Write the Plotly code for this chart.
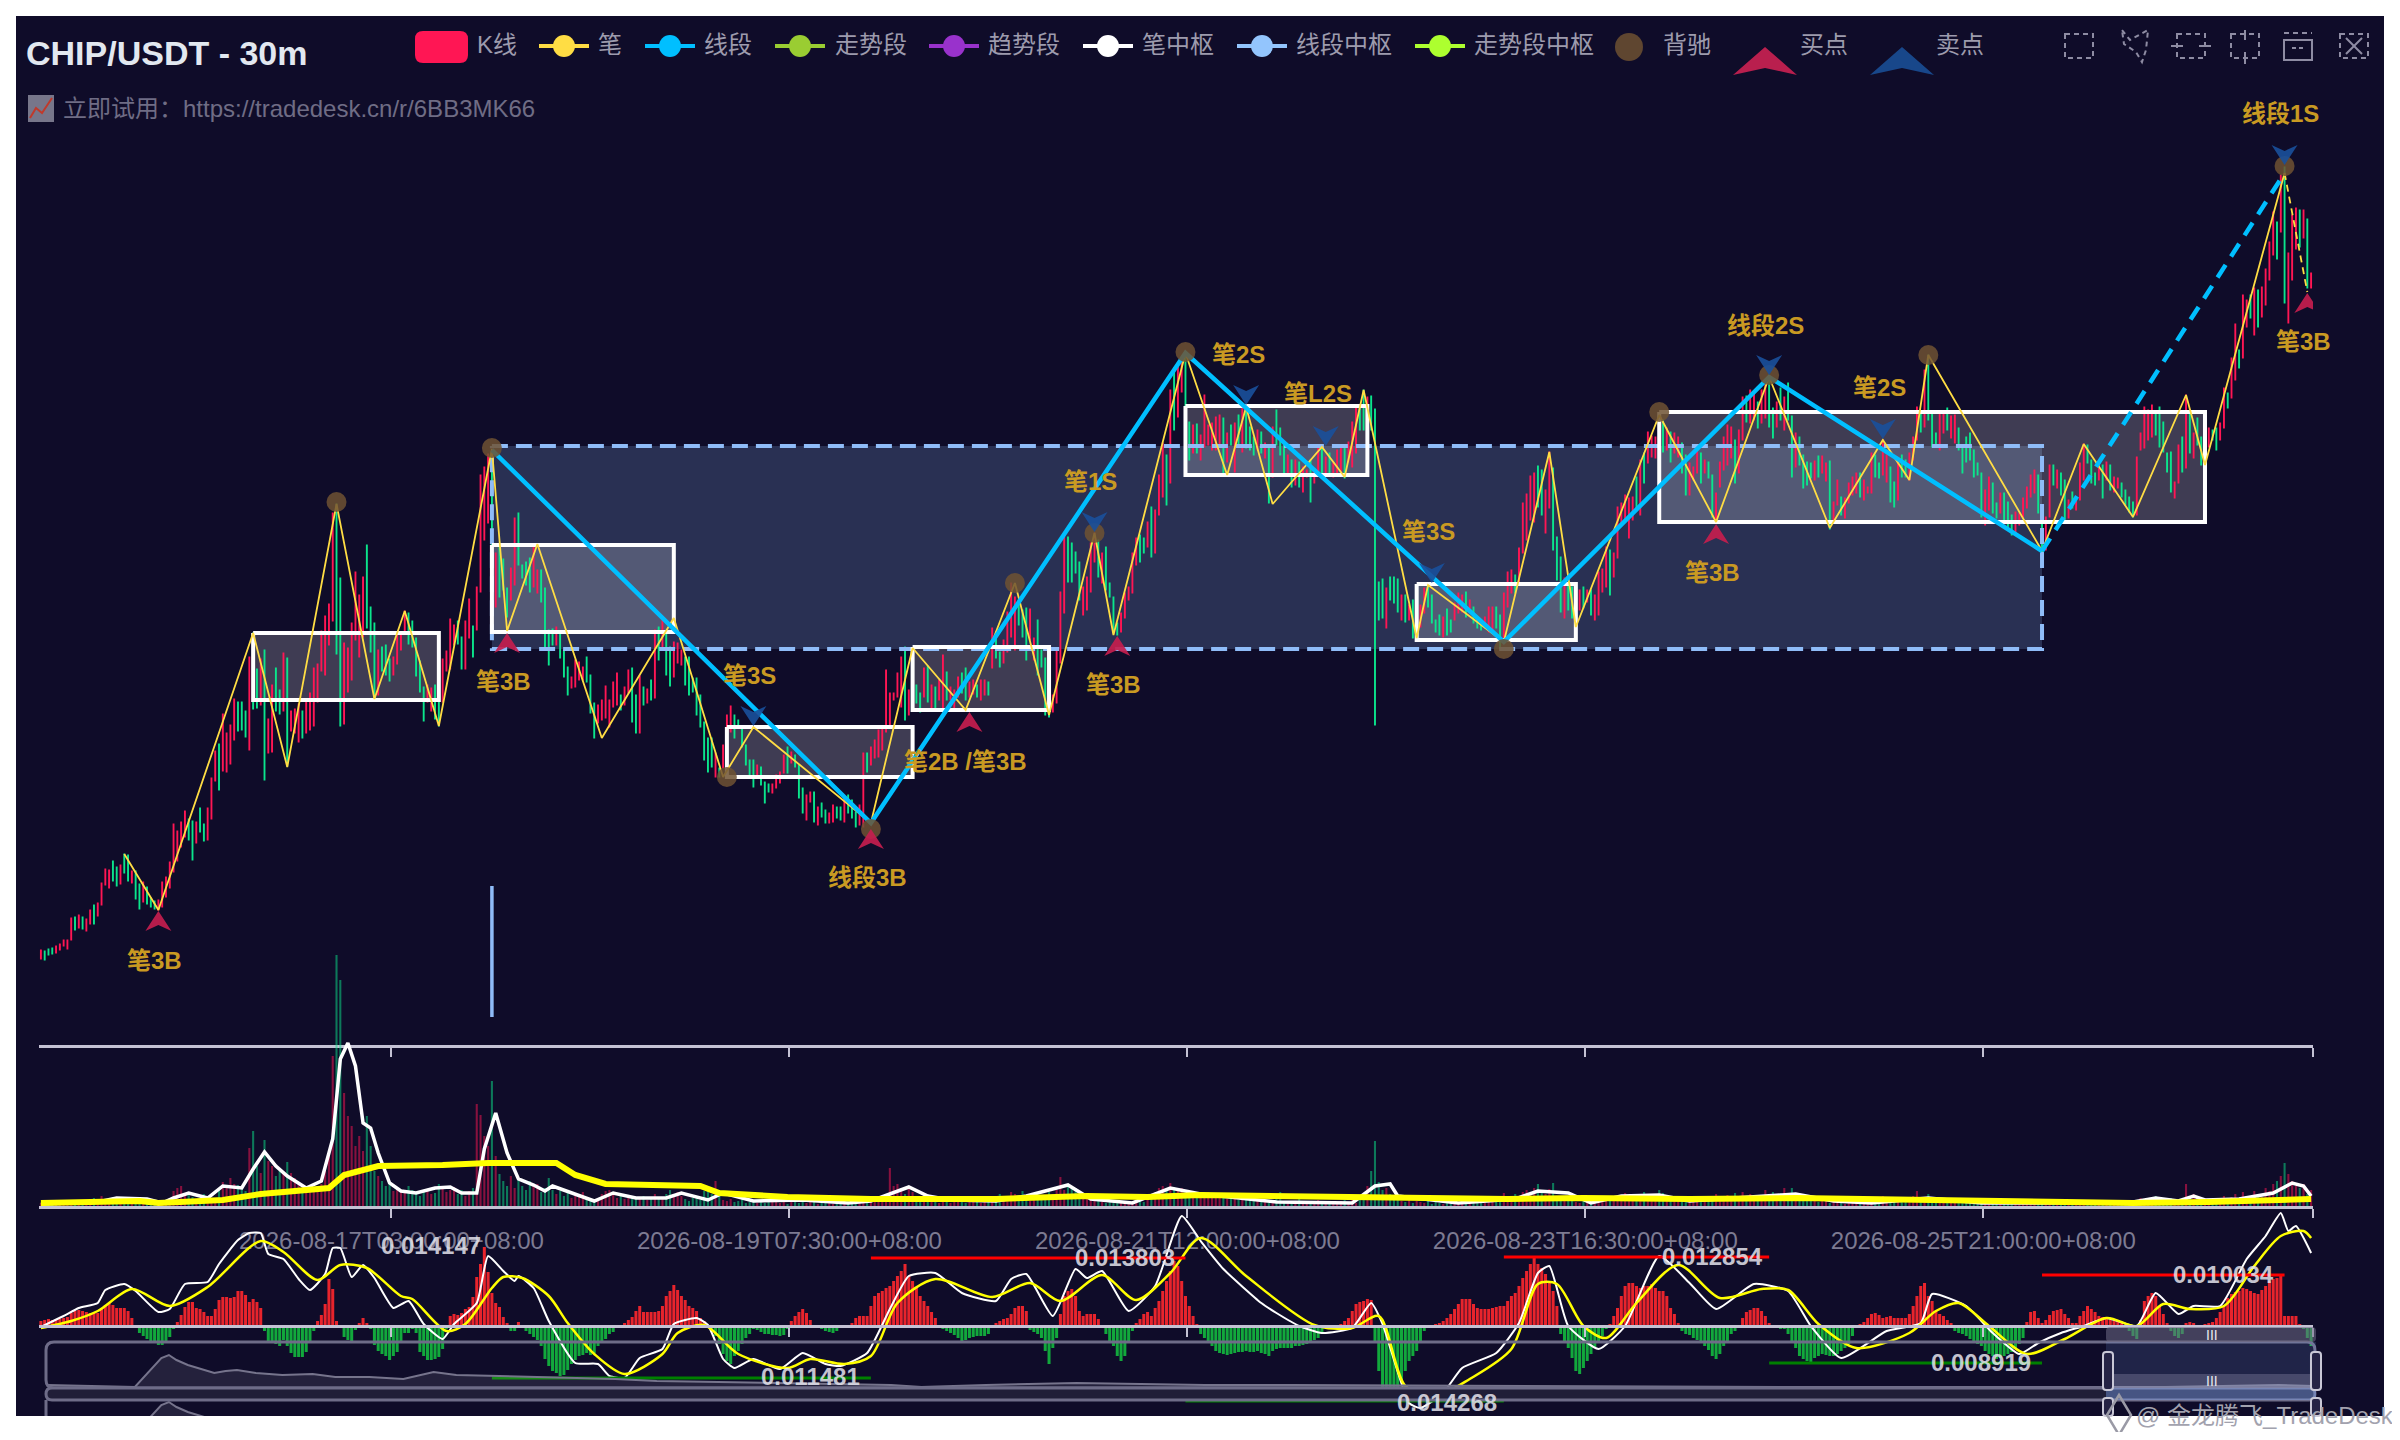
import plotly.graph_objects as go

# page body margin is 8px, figure sits inside it
OFFSET = 8
W, H = 2384, 1424
BG = "#0f0c29"
UP, DOWN = "#ff1654", "#0be58c"
CJK = "Liberation Sans, Noto Sans CJK SC"

# candles, 30m bars. price units are display ticks, the axis itself is hidden
bar_high = [
    97, 96, 98, 99, 101, 103, 107, 107, 129, 130, 132, 130, 128, 137, 142, 144, 164, 178, 177, 186,
    180, 182, 193, 192, 176, 176, 163, 165, 160, 149, 146, 147, 165, 170, 185, 223, 216, 225, 236, 228,
    226, 225, 239, 223, 239, 269, 296, 303, 333, 314, 322, 348, 345, 345, 336, 390, 414, 378, 388, 397,
    328, 362, 379, 357, 394, 389, 336, 338, 343, 336, 347, 354, 379, 383, 416, 431, 443, 534, 543, 469,
    404, 399, 424, 475, 452, 470, 502, 440, 424, 397, 400, 402, 388, 390, 414, 414, 436, 434, 426, 409,
    386, 360, 362, 359, 362, 350, 388, 396, 428, 422, 426, 410, 426, 448, 421, 460, 572, 580, 593, 597,
    494, 501, 488, 459, 479, 529, 534, 482, 485, 489, 502, 477, 477, 459, 417, 418, 420, 415, 397, 380,
    370, 387, 385, 380, 390, 372, 344, 342, 347, 361, 347, 365, 374, 352, 360, 377, 379, 352, 371, 360,
    358, 367, 417, 420, 430, 415, 400, 405, 404, 397, 390, 390, 369, 369, 352, 325, 309, 309, 294, 279,
    302, 332, 341, 332, 327, 320, 302, 287, 287, 282, 280, 265, 263, 263, 272, 275, 292, 300, 295, 292,
    282, 259, 252, 255, 255, 240, 244, 237, 234, 242, 240, 240, 249, 252, 247, 235, 242, 294, 294, 300,
    307, 317, 319, 377, 354, 354, 374, 390, 400, 357, 367, 362, 354, 379, 381, 362, 360, 367, 392, 375,
    360, 357, 370, 374, 379, 365, 367, 362, 367, 367, 365, 419, 415, 395, 407, 435, 464, 450, 447, 437,
    439, 438, 409, 427, 397, 389, 380, 352, 399, 455, 510, 510, 504, 495, 485, 460, 470, 504, 514, 507,
    494, 500, 464, 450, 424, 434, 454, 460, 494, 509, 512, 509, 525, 540, 537, 572, 604, 592, 657, 679,
    682, 687, 694, 625, 622, 623, 612, 652, 622, 624, 630, 632, 629, 614, 622, 624, 632, 640, 637, 620,
    610, 617, 615, 604, 602, 620, 637, 619, 602, 592, 587, 587, 585, 580, 577, 587, 577, 602, 599, 590,
    594, 584, 597, 600, 600, 605, 625, 640, 642, 657, 650, 651, 638, 465, 468, 459, 470, 470, 468, 452,
    452, 442, 447, 440, 442, 459, 462, 452, 427, 432, 430, 438, 427, 444, 454, 452, 455, 447, 440, 430,
    425, 430, 440, 440, 440, 432, 454, 475, 477, 472, 499, 544, 553, 571, 574, 581, 577, 557, 595, 579,
    510, 490, 469, 461, 460, 449, 457, 460, 457, 457, 452, 475, 478, 500, 497, 494, 540, 544, 552, 549,
    550, 570, 587, 594, 615, 611, 610, 632, 627, 619, 615, 614, 610, 604, 592, 584, 580, 597, 594, 587,
    585, 572, 554, 585, 610, 622, 620, 607, 617, 650, 651, 657, 654, 645, 657, 662, 670, 639, 645, 659,
    650, 664, 631, 614, 610, 592, 585, 584, 586, 591, 591, 584, 586, 545, 567, 550, 549, 564, 570, 574,
    574, 567, 560, 594, 592, 584, 607, 592, 580, 565, 587, 592, 587, 594, 610, 640, 635, 677, 692, 634,
    614, 636, 635, 639, 631, 632, 619, 600, 610, 614, 597, 584, 574, 557, 570, 564, 544, 554, 554, 545,
    532, 535, 534, 549, 560, 572, 577, 572, 540, 530, 582, 582, 577, 574, 567, 547, 555, 549, 584, 603,
    602, 587, 574, 586, 582, 585, 582, 570, 569, 564, 557, 550, 545, 590, 614, 640, 637, 642, 634, 640,
    625, 594, 595, 565, 602, 610, 652, 635, 614, 629, 610, 602, 619, 617, 619, 624, 659, 654, 689, 723,
    697, 752, 747, 752, 759, 757, 760, 778, 805, 835, 825, 872, 880, 794, 832, 839, 837, 837, 828, 774,
]
bar_low = [
    88, 87, 92, 93, 94, 97, 101, 98, 107, 117, 119, 118, 116, 123, 123, 131, 142, 162, 159, 166,
    161, 163, 174, 166, 164, 148, 138, 145, 143, 140, 138, 137, 140, 150, 159, 175, 186, 200, 210, 207,
    187, 204, 215, 206, 207, 228, 266, 257, 276, 275, 283, 307, 316, 317, 310, 297, 338, 339, 342, 267,
    294, 295, 336, 333, 336, 281, 316, 314, 305, 309, 314, 317, 321, 345, 376, 372, 402, 426, 393, 321,
    323, 355, 367, 407, 390, 410, 419, 395, 348, 352, 376, 372, 366, 372, 383, 397, 414, 403, 400, 371,
    355, 326, 345, 336, 328, 321, 345, 376, 378, 402, 403, 378, 378, 409, 390, 417, 455, 507, 524, 426,
    440, 450, 457, 430, 447, 462, 482, 469, 462, 455, 460, 454, 445, 399, 382, 402, 402, 389, 370, 352,
    359, 360, 367, 367, 365, 334, 309, 324, 327, 329, 320, 340, 342, 337, 342, 354, 325, 314, 314, 342,
    344, 347, 349, 387, 397, 372, 361, 370, 384, 382, 362, 352, 355, 332, 320, 287, 275, 280, 270, 270,
    279, 300, 315, 309, 320, 300, 282, 272, 260, 269, 262, 244, 255, 254, 259, 264, 274, 274, 284, 280,
    249, 234, 227, 245, 225, 222, 230, 224, 224, 225, 229, 227, 225, 234, 229, 220, 222, 220, 275, 282,
    289, 290, 297, 315, 319, 347, 350, 340, 327, 332, 347, 344, 335, 350, 345, 339, 337, 347, 339, 347,
    347, 337, 350, 354, 347, 350, 353, 350, 347, 352, 352, 379, 389, 380, 384, 395, 410, 397, 422, 410,
    387, 407, 387, 372, 380, 332, 330, 335, 344, 384, 434, 465, 465, 474, 447, 432, 437, 455, 485, 470,
    464, 457, 450, 414, 412, 415, 429, 447, 454, 482, 485, 494, 500, 490, 494, 532, 550, 542, 564, 617,
    630, 655, 607, 587, 594, 594, 587, 600, 602, 597, 597, 602, 574, 585, 602, 575, 600, 595, 599, 597,
    592, 597, 594, 589, 544, 570, 602, 592, 572, 574, 560, 562, 560, 555, 570, 545, 564, 574, 574, 572,
    574, 570, 574, 574, 569, 585, 580, 594, 617, 617, 584, 617, 322, 427, 429, 419, 447, 444, 435, 427,
    425, 427, 409, 410, 420, 434, 440, 424, 415, 412, 410, 412, 415, 427, 434, 435, 430, 434, 424, 419,
    417, 419, 415, 415, 419, 399, 405, 440, 454, 454, 462, 494, 507, 527, 525, 540, 532, 514, 539, 497,
    467, 435, 429, 437, 429, 419, 437, 439, 445, 432, 427, 432, 455, 460, 452, 470, 489, 524, 525, 509,
    527, 539, 532, 564, 584, 590, 589, 599, 595, 597, 585, 594, 590, 574, 552, 552, 567, 574, 564, 574,
    569, 530, 525, 560, 577, 582, 589, 564, 574, 607, 625, 624, 627, 619, 624, 629, 620, 609, 620, 627,
    617, 627, 570, 580, 582, 559, 562, 569, 567, 570, 574, 566, 518, 527, 542, 532, 529, 544, 552, 554,
    550, 547, 554, 554, 570, 569, 572, 565, 545, 540, 547, 570, 570, 567, 587, 607, 615, 620, 627, 600,
    600, 597, 614, 617, 609, 604, 597, 574, 585, 587, 570, 572, 530, 522, 537, 534, 529, 534, 524, 519,
    512, 514, 522, 530, 539, 550, 554, 534, 495, 497, 530, 562, 559, 552, 527, 529, 539, 537, 547, 567,
    584, 564, 562, 567, 549, 567, 557, 555, 559, 550, 542, 535, 530, 532, 597, 599, 607, 610, 612, 600,
    595, 575, 555, 549, 564, 575, 579, 594, 589, 602, 582, 577, 600, 607, 597, 607, 619, 639, 649, 667,
    679, 689, 720, 729, 712, 720, 730, 742, 767, 792, 788, 815, 744, 724, 767, 798, 800, 809, 759, 759,
]
# r = up bar, g = down bar, ten bars per block
bar_dir = "".join([
    "rgggrrrrrg", "rgrrgrrrrg", "grggrggrgg", "grrrrrrrrg", "grggrrrgrr", "rrgggrggrg",
    "rrggrgrrrg", "rrrrrrrrgg", "rrrrrrgggr", "gggrrrrggg", "ggrrggrrrr", "ggrrgrrrrg",
    "rgggrrgggg", "rrggggrggg", "rrrrgggrrr", "rrrgrrggrg", "rgrgrggrrr", "ggggggggrg",
    "rrrggggggr", "gggrrrrgrg", "ggrrgrggrr", "ggrgggrrgr", "rrrrrrrrgr", "rggrgrgrrg",
    "rrrggrrgrr", "grggrrrrgg", "grrggggrrr", "rggggrrrrg", "rggggrrrrr", "ggrgrrrgrg",
    "rrggrgrrrr", "rrgrgrgrgg", "grgrgrgggr", "grgrrgrrgr", "grrrgrrrgg", "rggggrgggr",
    "grgrrrgggg", "rggrrrgrgg", "grrrggrrrg", "rrrrrggrrg", "ggrggrrgrg", "rrrrgrrrrr",
    "rgrgrrrggr", "grrggrrrgr", "ggrrrrrgrr", "grrgrrggrg", "rggrggggrg", "rrgrrgrrrr",
    "grrrggrrgg", "rggrrrgrgg", "grrgrrgggg", "gggrrggrgg", "grrrrrrggr", "rgrggrgrrr",
    "gggrgrgrrg", "gggrrrrrgg", "gggrrgrgrg", "grrggrrgrr", "grrgrgrrrr", "grgrrrgrgr",
])

# volume, same bars
volume = [
    3, 2, 2, 3, 2, 3, 3, 3, 5, 4, 4, 5, 5, 7, 8, 5, 10, 6, 5, 9, 8, 7, 9, 7, 4, 3, 4, 6, 3, 2,
    2, 3, 4, 5, 8, 15, 18, 20, 12, 14, 9, 7, 8, 12, 9, 7, 6, 16, 24, 20, 28, 22, 21, 18, 15, 58, 75, 40, 33, 66,
    45, 40, 30, 35, 34, 44, 33, 28, 22, 16, 14, 18, 15, 20, 22, 35, 50, 150, 251, 226, 113, 90, 80, 60, 70, 55, 90, 60, 35, 30,
    25, 20, 22, 15, 18, 14, 15, 20, 16, 12, 10, 14, 17, 12, 13, 22, 20, 14, 16, 19, 12, 16, 10, 15, 18, 102, 91, 70, 60, 125,
    50, 32, 25, 20, 30, 18, 27, 20, 16, 25, 20, 22, 14, 18, 28, 16, 12, 15, 10, 14, 8, 10, 12, 14, 8, 5, 7, 6, 12, 15,
    16, 12, 8, 10, 7, 8, 9, 8, 7, 10, 6, 9, 12, 8, 7, 12, 16, 11, 14, 10, 7, 5, 8, 10, 6, 15, 20, 12, 25, 10,
    6, 5, 7, 4, 5, 8, 3, 4, 6, 3, 5, 3, 6, 4, 7, 3, 5, 2, 4, 5, 3, 6, 3, 4, 5, 2, 4, 6, 3, 2,
    4, 2, 3, 5, 2, 3, 6, 4, 8, 5, 7, 6, 10, 12, 38, 20, 22, 16, 12, 20, 14, 8, 6, 10, 5, 4, 6, 3, 4, 7,
    3, 6, 4, 5, 3, 6, 4, 5, 3, 4, 8, 5, 7, 12, 10, 9, 14, 12, 10, 15, 8, 5, 6, 12, 10, 7, 14, 12, 16, 29,
    16, 22, 20, 18, 12, 8, 10, 6, 5, 7, 4, 3, 5, 3, 4, 5, 3, 4, 3, 6, 5, 4, 10, 12, 14, 18, 20, 16, 23, 19,
    15, 18, 12, 10, 14, 8, 10, 12, 14, 9, 11, 13, 9, 7, 10, 12, 6, 9, 11, 6, 5, 8, 4, 6, 3, 5, 9, 14, 5, 4,
    3, 5, 7, 3, 4, 5, 3, 6, 4, 3, 4, 2, 3, 5, 6, 4, 7, 3, 6, 9, 20, 35, 65, 24, 16, 18, 12, 8, 7, 5,
    4, 6, 3, 5, 4, 3, 5, 2, 4, 3, 2, 4, 3, 5, 2, 3, 6, 4, 3, 5, 4, 3, 7, 5, 6, 4, 13, 8, 10, 12,
    9, 14, 16, 12, 18, 22, 15, 12, 17, 23, 10, 8, 6, 5, 7, 4, 3, 5, 4, 6, 3, 5, 4, 7, 5, 6, 10, 8, 13, 9,
    8, 12, 9, 14, 10, 12, 11, 16, 13, 10, 8, 6, 9, 5, 7, 4, 6, 5, 7, 8, 6, 10, 12, 7, 9, 11, 8, 13, 10, 14,
    9, 12, 10, 8, 11, 16, 12, 14, 10, 13, 18, 12, 18, 10, 7, 5, 8, 6, 9, 4, 5, 6, 3, 4, 7, 5, 2, 4, 3, 6,
    5, 3, 4, 6, 5, 7, 10, 4, 3, 5, 6, 8, 5, 7, 10, 15, 6, 8, 12, 9, 6, 7, 5, 4, 6, 3, 5, 4, 3, 4,
    2, 4, 3, 2, 5, 3, 2, 4, 3, 2, 3, 2, 4, 3, 2, 3, 4, 2, 3, 4, 2, 3, 2, 4, 2, 3, 5, 3, 2, 3,
    2, 3, 4, 5, 3, 6, 4, 3, 5, 2, 3, 2, 4, 5, 8, 7, 6, 9, 10, 7, 5, 4, 8, 6, 5, 7, 22, 9, 12, 6,
    5, 8, 6, 4, 7, 5, 10, 6, 9, 12, 8, 14, 10, 7, 15, 12, 9, 18, 15, 22, 25, 30, 43, 32, 25, 20, 18, 22, 12, 16,
]
vol_fast_x = [0, 15, 20, 28, 32, 35, 39, 44, 48, 53, 56, 59, 62, 65, 70, 74, 77, 79, 81, 83, 85, 87, 89, 92, 95, 99, 104, 108, 111, 115, 117, 120, 123, 126, 130, 133, 135, 140, 146, 151, 157, 165, 169, 176, 180, 188, 201, 213, 219, 229, 234, 240, 252, 260, 271, 277, 288, 298, 306, 326, 346, 352, 356, 358, 374, 389, 395, 403, 409, 417, 427, 435, 447, 463, 473, 483, 498, 512, 528, 552, 558, 564, 568, 571, 580, 589, 594, 597, 599]
vol_fast = [2, 4, 8, 7, 3, 8, 13, 8, 20, 18, 37, 54, 40, 30, 18, 25, 67, 147, 163, 140, 83, 78, 53, 23, 15, 13, 18, 19, 13, 13, 57, 93, 53, 27, 21, 15, 20, 13, 5, 13, 8, 8, 13, 6, 13, 5, 6, 3, 5, 19, 10, 6, 5, 10, 21, 7, 3, 18, 12, 4, 3, 20, 22, 10, 3, 7, 15, 13, 3, 10, 11, 5, 8, 12, 5, 3, 8, 3, 3, 4, 8, 5, 10, 6, 7, 13, 23, 20, 10]
vol_slow_x = [0, 15, 26, 31, 48, 58, 76, 80, 89, 106, 118, 136, 141, 149, 174, 179, 197, 219, 252, 276, 292, 306, 326, 352, 387, 407, 435, 463, 508, 552, 572, 599]
vol_slow = [3, 4, 5, 3, 6, 12, 18, 31, 40, 41, 43, 43, 31, 22, 20, 13, 9, 7, 7, 10, 9, 11, 10, 9, 7, 8, 7, 8, 6, 3, 4, 7]

# macd
macd_hist = [
    5, 6, 7, 6, 7, 7, 8, 9, 13, 15, 16, 15, 14, 13, 13, 13, 18, 21, 23, 21, 18, 18, 18, 15, 8, 0, -7, -10, -13, -15,
    -17, -19, -19, -15, -11, -3, 4, 11, 19, 24, 24, 18, 17, 14, 10, 10, 17, 26, 29, 29, 28, 29, 35, 35, 31, 24, 27, 24, 18, -5,
    -15, -16, -18, -20, -14, -20, -27, -31, -31, -31, -26, -16, -5, 5, 11, 22, 47, 37, 5, 0, -11, -14, -15, -4, 3, 8, 3, -3, -19, -25,
    -28, -30, -34, -30, -26, -16, -7, -7, -3, -7, -26, -30, -34, -34, -33, -31, -23, -3, 10, 12, 11, 13, 17, 19, 29, 49, 62, 79, 54, 33,
    23, 19, 9, 3, -5, -5, 4, 0, -5, -8, -11, -14, -20, -33, -40, -45, -47, -50, -49, -44, -38, -34, -30, -29, -27, -29, -27, -20, -17, -13,
    -8, -6, -2, 0, 3, 6, 9, 15, 20, 14, 14, 14, 14, 15, 20, 30, 35, 41, 36, 30, 26, 20, 18, 15, 8, 5, 0, -5, -10, -18,
    -28, -35, -38, -30, -25, -18, -12, -8, -3, -4, -6, -8, -8, -9, -9, -10, -9, -3, 5, 10, 14, 17, 13, 6, 0, 0, -3, -5, -6, -7,
    -5, -2, 0, 0, 3, 8, 10, 10, 10, 20, 30, 33, 35, 38, 40, 45, 50, 55, 62, 50, 45, 38, 30, 25, 20, 14, 8, 1, -3, -5,
    -7, -9, -12, -15, -14, -12, -11, -10, -10, -10, -8, -2, 3, 5, 7, 8, 12, 18, 20, 20, 15, -4, -6, -8, -12, -25, -38, -22, -12, 12,
    30, 35, 37, 30, 15, 10, 12, 12, 12, 7, 1, -8, -15, -20, -30, -35, -30, -15, -5, 3, 7, 12, 14, 10, 18, 25, 35, 45, 55, 65,
    60, 45, 30, 20, 10, 2, -8, -12, -15, -20, -25, -27, -28, -29, -28, -27, -26, -26, -25, -26, -26, -25, -27, -28, -30, -25, -23, -22, -22, -22,
    -22, -20, -20, -19, -18, -17, -14, -12, -8, -2, 0, 0, 0, 2, 5, 8, 15, 22, 24, 25, 27, 26, -15, -45, -65, -71, -70, -68, -62, -55,
    -45, -35, -30, -25, -15, -5, 1, 1, 2, 3, 5, 8, 12, 17, 22, 27, 27, 27, 22, 18, 17, 17, 17, 18, 19, 20, 20, 25, 30, 33,
    40, 48, 55, 62, 68, 62, 58, 52, 45, 35, 20, -8, -15, -22, -32, -45, -48, -42, -35, -28, -22, -15, -10, -3, 2, 10, 18, 30, 40, 43,
    43, 40, 38, 40, 40, 42, 38, 35, 35, 30, 18, 12, 3, -5, -8, -9, -12, -14, -16, -20, -24, -30, -33, -28, -20, -15, -8, -5, 0, 8,
    14, 16, 18, 18, 15, 10, 3, -2, -1, -3, -3, -8, -15, -22, -30, -33, -35, -36, -32, -30, -28, -29, -30, -30, -28, -25, -22, -18, -10, 1,
    2, 4, 8, 12, 13, 11, 8, 9, 10, 8, 8, 8, 8, 12, 20, 30, 40, 43, 30, 25, 15, 12, 10, 6, 3, -5, -7, -8, -10, -13,
    -16, -18, -20, -25, -28, -30, -33, -32, -30, -28, -26, -22, -18, -12, 4, 14, 15, 8, 3, 6, 11, 15, 16, 17, 12, 8, 3, 3, 10, 15,
    20, 17, 14, 10, 9, 7, 6, 5, 5, 3, 1, -5, -10, -13, 6, 25, 30, 33, 30, 20, 12, 3, -5, -10, -12, -8, 3, 4, 3, 1,
    1, 2, 3, 4, 8, 14, 20, 28, 32, 34, 35, 38, 37, 35, 33, 32, 36, 40, 45, 47, 48, 50, 10, 10, 10, 10, 2, -3, -12, -20,
]
dif_x = [0, 6, 10, 15, 17, 22, 25, 31, 34, 38, 44, 47, 52, 55, 58, 60, 64, 68, 71, 75, 77, 79, 82, 85, 88, 93, 97, 101, 106, 109, 115, 118, 122, 125, 126, 130, 134, 141, 147, 150, 154, 158, 164, 167, 173, 176, 180, 183, 188, 195, 201, 207, 211, 218, 224, 229, 236, 243, 252, 256, 260, 267, 273, 276, 280, 287, 294, 301, 306, 312, 322, 326, 332, 338, 346, 351, 354, 361, 364, 370, 375, 384, 390, 395, 398, 403, 411, 418, 427, 435, 442, 452, 461, 467, 475, 487, 496, 499, 508, 515, 522, 527, 533, 539, 545, 553, 558, 564, 568, 575, 582, 587, 591, 593, 595, 599]
dif = [-1, 10, 18, 23, 36, 42, 35, 14, 17, 42, 44, 62, 86, 93, 93, 72, 67, 47, 36, 52, 78, 78, 49, 61, 48, 18, 25, 2, -13, 2, 23, 70, 55, 45, 50, 38, 5, -37, -38, -50, -52, -32, -23, 2, 8, 1, -33, -42, -33, -43, -27, -38, -40, -27, 17, 50, 53, 33, 25, 47, 52, 10, 57, 48, 55, 15, 40, 110, 85, 57, 23, 13, 0, -7, -2, 23, 2, -77, -82, -67, -42, -27, 3, 53, 60, 0, -23, 0, 70, 43, 17, 42, 35, 0, -32, -5, 3, 32, 20, -7, -28, -17, -7, 0, 8, 0, 33, 12, 20, 20, 67, 90, 113, 95, 100, 73]
dea_x = [0, 8, 15, 24, 34, 44, 58, 64, 73, 79, 86, 95, 98, 107, 112, 119, 122, 127, 134, 139, 146, 154, 164, 168, 175, 184, 197, 203, 212, 219, 226, 236, 251, 261, 269, 280, 289, 298, 306, 318, 336, 346, 353, 360, 368, 377, 388, 395, 400, 407, 413, 421, 432, 443, 454, 461, 469, 479, 493, 500, 506, 514, 524, 534, 545, 553, 560, 567, 576, 584, 591, 597, 599]
dea = [-2, 5, 15, 37, 20, 39, 85, 74, 46, 61, 58, 30, 27, -5, 2, 38, 49, 48, 30, 3, -28, -48, -28, -7, 1, -28, -42, -33, -38, -30, 23, 47, 29, 43, 25, 51, 26, 53, 88, 50, 1, -2, 10, -60, -70, -53, -23, 42, 42, 0, -12, 23, 61, 28, 37, 36, 2, -22, -7, 15, 23, 0, -28, -13, 8, 0, 22, 17, 20, 60, 90, 95, 88]

# chan structure
pen_x = [22, 31, 56, 65, 78, 88, 96, 105, 119, 123, 131, 148, 167, 180, 188, 219, 230, 244, 257, 266, 278, 283, 302, 313, 318, 325, 338, 344, 349, 363, 366, 386, 398, 405, 427, 442, 456, 472, 486, 493, 498, 528, 539, 552, 566, 571, 592]
pen_y = [193, 137, 414, 280, 543, 348, 436, 321, 598, 416, 503, 309, 429, 270, 320, 224, 399, 337, 464, 332, 514, 412, 694, 572, 640, 543, 600, 570, 657, 409, 462, 405, 595, 420, 632, 525, 670, 519, 607, 567, 692, 496, 603, 530, 652, 582, 874]
pen_open_x = [592, 598]
pen_open_y = [874, 755]
seg_x = [119, 219, 302, 386, 456, 528]
seg_y = [597, 224, 694, 405, 670, 496]
seg_open_x = [528, 592]
seg_open_y = [496, 874]
# pivots: first bar, last bar, low, high
pivot_x0 = [56, 119, 181, 230, 302, 363, 427]
pivot_x1 = [105, 167, 230, 266, 350, 405, 571]
pivot_lo = [347, 415, 270, 337, 572, 407, 525]
pivot_hi = [414, 502, 320, 400, 641, 463, 635]
seg_pivot_x = [119, 528]
seg_pivot_y = [398, 601]
marker_line_x = [119, 119]
marker_line_y = [30, 161]
diverge_x = [78, 119, 181, 219, 257, 278, 302, 386, 427, 456, 498, 592]
diverge_y = [545, 599, 270, 218, 464, 514, 695, 398, 635, 672, 692, 881]
buy_x = [31, 123, 219, 245, 284, 442, 598]
buy_y = [136, 414, 218, 335, 411, 523, 754]
sell_x = [188, 278, 318, 339, 367, 456, 486, 592]
sell_y = [321, 515, 642, 601, 464, 672, 608, 882]
label_x = [30, 122, 187, 218, 244, 283, 277, 316, 337, 366, 441, 455, 485, 591, 597]
label_y = [87, 366, 372, 170, 286, 363, 566, 693, 654, 516, 475, 722, 660, 934, 706]
label_text = ["笔3B", "笔3B", "笔3S", "线段3B", "笔2B /笔3B", "笔3B", "笔1S", "笔2S", "笔L2S", "笔3S", "笔3B", "线段2S", "笔2S", "线段1S", "笔3B"]

# macd extreme marks
mark_x0 = [219, 386, 528, 456, 119, 302]
mark_x1 = [302, 456, 592, 528, 219, 386]
mark_y = [68, 69, 51, -37, -52, -75]
mark_label_x = [103, 286, 203, 371, 441, 512, 576]
mark_label_y = [81, 69, -50, -76, 70, -36, 52]
mark_label = ["0.014147", "0.013803", "0.011481", "0.014268", "0.012854", "0.008919", "0.010034"]

tick_vals = [92.5, 197.5, 302.5, 407.5, 512.5, 599.5]
tick_text = ["2026-08-17T03:00:00+08:00", "2026-08-19T07:30:00+08:00", "2026-08-21T12:00:00+08:00",
             "2026-08-23T16:30:00+08:00", "2026-08-25T21:00:00+08:00", ""]

slider_x = [0, 23, 30, 32, 34, 37, 44, 47, 50, 55, 62, 70, 76, 85, 94, 102, 108, 118, 128, 139, 150, 161, 191, 223, 231, 248, 272, 306, 330, 400, 460, 530, 560, 590, 599]
slider_y = [3, 1, 30, 33, 28, 23, 15, 17, 18, 15, 13, 14, 11, 11, 9, 16, 13, 12, 11, 10, 9, 7, 5, 3, 1, 3, 5, 3, 3, 2, 1, 1, 1, 3, 2]

legend_colors = ["#ffdd44", "#00bfff", "#9acd32", "#9932cc", "#ffffff", "#93c5fd", "#adff2f"]
legend_centers = [564, 670, 800, 954, 1108, 1262, 1440]


def fx(x):
    return (x - OFFSET) / W


def fy(y):
    return 1 - (y - OFFSET) / H


def paper_path(points, close=True):
    body = "L".join(f"{fx(x):.5f},{fy(y):.5f}" for x, y in points)
    return "M" + body + ("Z" if close else "")


def round_rect(x0, y0, x1, y1, r):
    return (
        f"M{fx(x0 + r):.5f},{fy(y0):.5f}L{fx(x1 - r):.5f},{fy(y0):.5f}Q{fx(x1):.5f},{fy(y0):.5f} {fx(x1):.5f},{fy(y0 + r):.5f}"
        f"L{fx(x1):.5f},{fy(y1 - r):.5f}Q{fx(x1):.5f},{fy(y1):.5f} {fx(x1 - r):.5f},{fy(y1):.5f}"
        f"L{fx(x0 + r):.5f},{fy(y1):.5f}Q{fx(x0):.5f},{fy(y1):.5f} {fx(x0):.5f},{fy(y1 - r):.5f}"
        f"L{fx(x0):.5f},{fy(y0 + r):.5f}Q{fx(x0):.5f},{fy(y0):.5f} {fx(x0 + r):.5f},{fy(y0):.5f}Z"
    )


def paper_shape(path, fill=None, color=None, width=0, dash=None):
    return dict(type="path", xref="paper", yref="paper", path=path, fillcolor=fill or "rgba(0,0,0,0)",
                line=dict(color=color or "rgba(0,0,0,0)", width=width, dash=dash), layer="above")


def text_at(x, y, text, size=24, color="#9d9bad", anchor="left", bold=False):
    label = f"<b>{text}</b>" if bold else text
    return dict(xref="paper", yref="paper", x=fx(x), y=fy(y), text=label, showarrow=False, xanchor=anchor,
                yanchor="middle", font=dict(family=CJK, size=size, color=color))


bars = list(range(len(bar_high)))
bar_open = [l if d == "r" else h for h, l, d in zip(bar_high, bar_low, bar_dir)]
bar_close = [h if d == "r" else l for h, l, d in zip(bar_high, bar_low, bar_dir)]

fig = go.Figure()

fig.add_trace(go.Candlestick(
    x=bars, open=bar_open, high=bar_high, low=bar_low, close=bar_close, xaxis="x", yaxis="y", whiskerwidth=0,
    increasing=dict(line=dict(color=UP, width=1.2), fillcolor=UP),
    decreasing=dict(line=dict(color=DOWN, width=1.2), fillcolor=DOWN),
))
# dashed segment pivot
sx0, sx1 = seg_pivot_x
sy0, sy1 = seg_pivot_y
fig.add_scatter(x=[sx0, sx1, sx1, sx0, sx0], y=[sy1, sy1, sy0, sy0, sy1], mode="lines", xaxis="x", yaxis="y",
                line=dict(color="#8fbcf8", width=4, dash="16px,8px"))
fig.add_scatter(x=marker_line_x, y=marker_line_y, mode="lines", xaxis="x", yaxis="y",
                line=dict(color="#8fbcf8", width=3.5))
for x0, x1, lo, hi in zip(pivot_x0, pivot_x1, pivot_lo, pivot_hi):
    fig.add_scatter(x=[x0, x1, x1, x0, x0], y=[hi, hi, lo, lo, hi], mode="lines", xaxis="x", yaxis="y",
                    line=dict(color="#ffffff", width=4))
fig.add_scatter(x=pen_x, y=pen_y, mode="lines", xaxis="x", yaxis="y", line=dict(color="#ffdd44", width=1.8))
fig.add_scatter(x=pen_open_x, y=pen_open_y, mode="lines", xaxis="x", yaxis="y",
                line=dict(color="#ffdd44", width=1.8, dash="7px,5px"))
fig.add_scatter(x=seg_x, y=seg_y, mode="lines", xaxis="x", yaxis="y", line=dict(color="#00bfff", width=4.5))
fig.add_scatter(x=seg_open_x, y=seg_open_y, mode="lines", xaxis="x", yaxis="y",
                line=dict(color="#00bfff", width=4.5, dash="15px,10px"))
fig.add_scatter(x=diverge_x, y=diverge_y, mode="markers", xaxis="x", yaxis="y",
                marker=dict(size=20, color="rgba(110,82,50,0.85)", line=dict(width=0)))

# volume
vol_colors = ["rgba(255,22,84,0.5)" if d == "r" else "rgba(11,229,140,0.5)" for d in bar_dir]
fig.add_trace(go.Bar(x=bars, y=volume, xaxis="x2", yaxis="y2", width=0.55, marker=dict(color=vol_colors, line=dict(width=0))))
fig.add_scatter(x=vol_fast_x, y=vol_fast, mode="lines", xaxis="x2", yaxis="y2", line=dict(color="#ffffff", width=3.5))
fig.add_scatter(x=vol_slow_x, y=vol_slow, mode="lines", xaxis="x2", yaxis="y2", line=dict(color="#ffff00", width=6))

# macd
hist_colors = ["#e8242c" if v >= 0 else "#12a83c" for v in macd_hist]
fig.add_trace(go.Bar(x=list(range(len(macd_hist))), y=macd_hist, xaxis="x3", yaxis="y3", width=0.8,
                     marker=dict(color=hist_colors, line=dict(width=0))))
fig.add_scatter(x=dif_x, y=dif, mode="lines", xaxis="x3", yaxis="y3", line=dict(color="#ffffff", width=2, shape="spline", smoothing=0.5))
fig.add_scatter(x=dea_x, y=dea, mode="lines", xaxis="x3", yaxis="y3", line=dict(color="#ffff00", width=2.5, shape="spline", smoothing=0.8))
for x0, x1, v in zip(mark_x0, mark_x1, mark_y):
    color = "#ff0000" if v > 0 else "#008000"
    fig.add_scatter(x=[x0, x1], y=[v, v], mode="lines", xaxis="x3", yaxis="y3", line=dict(color=color, width=3))

# data zoom miniature, drawn twice like the reference
for xa, ya in (("x4", "y4"), ("x5", "y5")):
    fig.add_scatter(x=slider_x, y=slider_y, mode="lines", xaxis=xa, yaxis=ya, fill="tozeroy",
                    fillcolor="rgba(255,255,255,0.09)", line=dict(color="#76748c", width=2))

shapes = [
    dict(type="rect", xref="paper", yref="paper", x0=fx(16), x1=fx(2384), y0=fy(1416), y1=fy(16),
         fillcolor=BG, line=dict(width=0), layer="below"),
    dict(type="rect", xref="x", yref="y", x0=sx0, x1=sx1, y0=sy0, y1=sy1, fillcolor="rgba(147,197,253,0.2)",
         line=dict(width=0), layer="below"),
]
for x0, x1, lo, hi in zip(pivot_x0, pivot_x1, pivot_lo, pivot_hi):
    shapes.append(dict(type="rect", xref="x", yref="y", x0=x0, x1=x1, y0=lo, y1=hi,
                       fillcolor="rgba(255,255,255,0.2)", line=dict(width=0), layer="below"))
for i, p in zip(buy_x, buy_y):
    shapes.append(dict(type="path", xref="x", yref="y", xsizemode="pixel", ysizemode="pixel", xanchor=i, yanchor=p,
                       path="M0,0L13,-20L0,-14L-13,-20Z", fillcolor="rgba(196,30,78,0.92)", line=dict(width=0)))
for i, p in zip(sell_x, sell_y):
    shapes.append(dict(type="path", xref="x", yref="y", xsizemode="pixel", ysizemode="pixel", xanchor=i, yanchor=p,
                       path="M0,0L13,20L0,14L-13,20Z", fillcolor="rgba(26,80,155,0.9)", line=dict(width=0)))

# legend
shapes.append(paper_shape(round_rect(415, 31, 468, 63, 8), fill="#ff1654"))
for cx, color in zip(legend_centers, legend_colors):
    shapes.append(paper_shape(paper_path([(cx - 25, 46), (cx + 25, 46)], close=False), color=color, width=4))
    shapes.append(dict(type="circle", xref="paper", yref="paper", x0=fx(cx - 11), x1=fx(cx + 11), y0=fy(57), y1=fy(35),
                       fillcolor=color, line=dict(width=0), layer="above"))
shapes.append(dict(type="circle", xref="paper", yref="paper", x0=fx(1615), x1=fx(1643), y0=fy(61), y1=fy(33),
                   fillcolor="#5f4630", line=dict(width=0), layer="above"))
for cx, color in ((1765, "#b91f4e"), (1902, "#18478a")):
    shapes.append(paper_shape(paper_path([(cx, 47), (cx + 32, 75), (cx, 68), (cx - 32, 75)]), fill=color))

# toolbox
ICON = "#8e8ca3"
for cx in (2079, 2191, 2245, 2354):
    shapes.append(paper_shape(paper_path([(cx - 14, 34), (cx + 14, 34), (cx + 14, 58), (cx - 14, 58)]), color=ICON, width=2, dash="5px,4px"))
shapes.append(paper_shape(paper_path([(2122, 30), (2130, 40), (2148, 30), (2146, 50), (2142, 62), (2136, 52), (2124, 44)]), color=ICON, width=2, dash="5px,4px"))
shapes.append(paper_shape(paper_path([(2354 - 8, 38), (2354 + 8, 54)], close=False), color=ICON, width=2))
shapes.append(paper_shape(paper_path([(2354 + 8, 38), (2354 - 8, 54)], close=False), color=ICON, width=2))
shapes.append(paper_shape(paper_path([(2191 - 20, 46), (2191 - 8, 46)], close=False), color=ICON, width=2))
shapes.append(paper_shape(paper_path([(2191 + 8, 46), (2191 + 20, 46)], close=False), color=ICON, width=2))
shapes.append(paper_shape(paper_path([(2245, 30), (2245, 40)], close=False), color=ICON, width=2))
shapes.append(paper_shape(paper_path([(2245, 52), (2245, 64)], close=False), color=ICON, width=2))
shapes.append(paper_shape(paper_path([(2298 - 14, 40), (2298 + 14, 40), (2298 + 14, 60), (2298 - 14, 60)]), color=ICON, width=2))
shapes.append(paper_shape(paper_path([(2298 - 14, 33), (2298 + 14, 33)], close=False), color=ICON, width=2, dash="5px,4px"))
shapes.append(paper_shape(paper_path([(2298 - 6, 48), (2298 + 6, 48)], close=False), color=ICON, width=2, dash="4px,3px"))

# subtitle icon
shapes.append(paper_shape(paper_path([(28, 95), (54, 95), (54, 122), (28, 122)]), fill="#77768a"))
shapes.append(paper_shape(paper_path([(30, 118), (36, 108), (42, 113), (52, 98)], close=False), color="#c0392b", width=2))

# data zoom chrome
FRAME = "#6e6c88"
shapes.append(paper_shape(round_rect(46, 1342, 2315, 1388, 8), color=FRAME, width=3))
shapes.append(paper_shape(round_rect(46, 1388, 2315, 1400, 6), fill="#201e38", color=FRAME, width=3))
shapes.append(paper_shape(paper_path([(46, 1400), (46, 1416)], close=False), color=FRAME, width=3))
shapes.append(paper_shape(round_rect(2106, 1327, 2316, 1342, 4), fill="rgba(112,108,135,0.55)"))
shapes.append(paper_shape(paper_path([(2106, 1342), (2316, 1342), (2316, 1374), (2106, 1374)]), fill="rgba(135,175,255,0.15)"))
shapes.append(paper_shape(paper_path([(2106, 1374), (2316, 1374), (2316, 1388), (2106, 1388)]), fill="rgba(150,160,200,0.42)"))
shapes.append(paper_shape(paper_path([(2106, 1388), (2316, 1388), (2316, 1400), (2106, 1400)]), fill="rgba(135,175,255,0.38)"))
for hx in (2108, 2316):
    shapes.append(paper_shape(round_rect(hx - 5, 1352, hx + 5, 1390, 3), fill="#252345", color="#c9c8d6", width=2))
    shapes.append(paper_shape(round_rect(hx - 5, 1398, hx + 5, 1416, 3), fill="#252345", color="#c9c8d6", width=2))
# watermark logo
shapes.append(paper_shape(paper_path([(2119, 1395), (2131, 1415), (2119, 1435), (2107, 1415)]), color="#9a9aa6", width=2.5))

annotations = [
    text_at(24, 53, "CHIP/USDT - 30m", size=34, color="#e2e8f0", bold=True),
    text_at(61, 108, "立即试用：https://tradedesk.cn/r/6BB3MK66", size=24, color="#6f6d85"),
    text_at(475, 45, "K线"), text_at(596, 45, "笔"), text_at(702, 45, "线段"), text_at(833, 45, "走势段"),
    text_at(986, 45, "趋势段"), text_at(1140, 45, "笔中枢"), text_at(1294, 45, "线段中枢"), text_at(1472, 45, "走势段中枢"),
    text_at(1661, 45, "背驰"), text_at(1798, 45, "买点"), text_at(1934, 45, "卖点"),
    text_at(2212, 1335, "III", size=14, color="#e8e8f0", anchor="center"),
    text_at(2212, 1381, "III", size=14, color="#e8e8f0", anchor="center"),
    text_at(2134, 1415, "@ 金龙腾飞_TradeDesk", size=24, color="#a2a2ae"),
]
for i, p, t in zip(label_x, label_y, label_text):
    annotations.append(dict(xref="x", yref="y", x=i, y=p, text=f"<b>{t}</b>", showarrow=False,
                            font=dict(family=CJK, size=24, color="#c99a22")))
for i, v, t in zip(mark_label_x, mark_label_y, mark_label):
    annotations.append(dict(xref="x3", yref="y3", x=i, y=v, text=f"<b>{t}</b>", showarrow=False,
                            font=dict(family=CJK, size=24, color="rgba(230,230,238,0.85)")))

AXIS = "#c4c2d4"
x_range = [-0.5, 599.5]
x_dom = [fx(39), fx(2313)]
common_x = dict(range=x_range, domain=x_dom, showgrid=False, zeroline=False, showline=True, linecolor=AXIS, linewidth=2.5,
                ticks="outside", ticklen=9, tickwidth=1.5, tickcolor=AXIS, tickmode="array", tickvals=tick_vals,
                ticktext=tick_text, showticklabels=False)

fig.update_layout(
    width=W, height=H, margin=dict(l=0, r=0, t=0, b=0), paper_bgcolor="#ffffff", plot_bgcolor="rgba(0,0,0,0)",
    showlegend=False, boxgap=0.75, barmode="overlay", shapes=shapes, annotations=annotations,
    xaxis=dict(common_x, anchor="free", position=fy(1046), rangeslider=dict(visible=False)),
    yaxis=dict(domain=[fy(1047), fy(16)], range=[0, 1031], visible=False, anchor="x"),
    xaxis2=dict(common_x, anchor="y2", showticklabels=True, ticklabelstandoff=2,
                tickfont=dict(family=CJK, size=24, color="#7d7b92")),
    yaxis2=dict(domain=[fy(1206), fy(899)], range=[0, 307], visible=False, anchor="x2"),
    xaxis3=dict(common_x, anchor="free", position=fy(1326)),
    yaxis3=dict(domain=[fy(1415), fy(1199)], range=[-89, 127], visible=False, anchor="x3"),
    xaxis4=dict(range=x_range, domain=[fx(46), fx(2315)], visible=False, anchor="y4"),
    yaxis4=dict(domain=[fy(1388), fy(1342)], range=[0, 46], visible=False, anchor="x4"),
    xaxis5=dict(range=x_range, domain=[fx(46), fx(2315)], visible=False, anchor="y5"),
    yaxis5=dict(domain=[fy(1416), fy(1400)], range=[19, 35], visible=False, anchor="x5"),
)

fig.write_html("out.html")
